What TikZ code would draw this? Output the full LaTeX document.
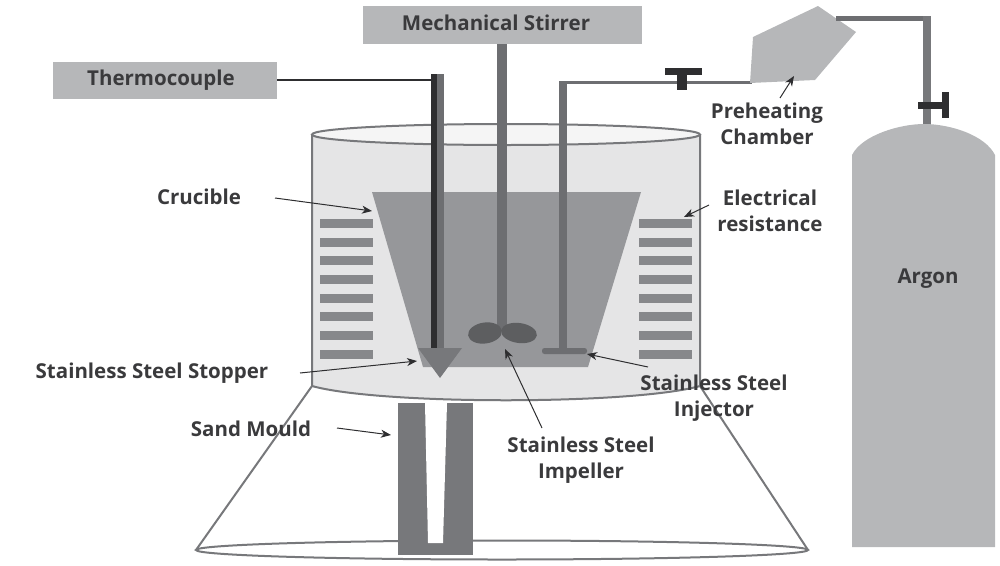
\documentclass[tikz,border=0pt]{standalone}
\usepackage{fontspec}
\setmainfont{Open Sans}[FontFace={sb}{n}{Font=* Semibold}]
\usetikzlibrary{arrows.meta}
\definecolor{boxgrey}{HTML}{B6B7B9}
\definecolor{bodygrey}{HTML}{E5E5E6}
\definecolor{melt}{HTML}{96979A}
\definecolor{metal}{HTML}{6D6E71}
\definecolor{mould}{HTML}{77787B}
\definecolor{dark}{HTML}{2E2E30}
\definecolor{outline}{HTML}{77787B}
\definecolor{txt}{HTML}{3A3A3C}
\tikzset{
  lbl/.style={font=\fontsize{20.5}{26}\selectfont\bfseries, text=txt, inner sep=0pt, align=center},
  ptr/.style={draw=dark, line width=1pt, -{Stealth[length=10pt,width=8pt,inset=3pt]}},
  bar/.style={fill=metal!85!white, draw=none},
  labbox/.style={fill=boxgrey, draw=none, inner sep=0pt, anchor=center},
}
\begin{document}
\begin{tikzpicture}[x=1pt,y=-1pt]
\useasboundingbox (0,0) rectangle (1000,565);
% funnel
\draw[outline, line width=2pt, line join=round] (312,386) -- (196,550) (700,386) -- (808,550);
\draw[outline, line width=2pt] (502,550) ellipse [x radius=306, y radius=9.5];
% mould
\fill[mould] (398,403) rectangle (473,555);
\fill[white] (425,403) -- (447,403) -- (443,543) -- (428,543) -- cycle;
% body of crucible furnace
\path[fill=bodygrey, draw=outline, line width=2pt] (312,134) -- (312,386) .. controls (380,405) and (632,405) .. (700,386) -- (700,134);
\path[fill=white!60!bodygrey, draw=outline, line width=2pt] (506,134.5) ellipse [x radius=194, y radius=10.5];
% melt
\fill[melt] (372,192) -- (641,192) -- (588,367) -- (423,367) -- cycle;
% heating bars
\foreach \yy in {219,238,256,275,294,312,331,350} {
  \fill[melt!90!black] (320,\yy) rectangle (373,\yy+9);
  \fill[melt!90!black] (639,\yy) rectangle (692,\yy+9);
}
% thermocouple
\fill[dark] (431,74) rectangle (437,348);
\fill[metal] (437,74) rectangle (444,348);
\fill[mould] (418,348) -- (462,348) -- (440,378) -- cycle;
% stirrer
\fill[metal] (497,44) rectangle (507,330);
\fill[metal!85!black, rotate around={8:(485,333)}] (485,333) ellipse [x radius=17, y radius=10.5];
\fill[metal!85!black, rotate around={-8:(519,333)}] (519,333) ellipse [x radius=18, y radius=10];
% injector
\fill[metal] (559,82) rectangle (567,350);
\fill[metal, rounded corners=2.5pt] (542,348) rectangle (587,354);
% gas line
\fill[metal] (559,80.5) rectangle (752,84);
\fill[dark] (665,68) rectangle (702,75);
\fill[dark] (677,75) rectangle (687,90);
% preheating chamber
\node[inner sep=0pt] (chamber) at (803,45) {};
\fill[boxgrey] (750,83) -- (753,37) -- (818,6) -- (856,32) -- (815,80) -- cycle;
% argon bottle line
\fill[metal] (836,16) rectangle (931,21);
\fill[mould] (923,16) rectangle (931,125);
\fill[dark] (918,102) rectangle (944,109);
\fill[dark] (942,92) rectangle (949,118);
% bottle
\fill[boxgrey] (852,547) -- (852,155) .. controls (862,135) and (900,124) .. (924,124) .. controls (950,124) and (985,135) .. (995,155) -- (995,547) -- cycle;
% label boxes
\node[labbox, minimum width=279pt, minimum height=38pt] (stirbox) at (502.5,25) {};
\node[labbox, minimum width=224pt, minimum height=37pt] (thermobox) at (165,80.5) {};
\node[lbl] (lstir) at (496,23) {Mechanical Stirrer};
\node[lbl] (lthermo) at (161,80) {Thermocouple};
\coordinate (thermoend) at (437,80);
\draw[dark, line width=1.6pt] (thermobox.east |- thermoend) -- (thermoend);
\node[lbl] (lcruc) at (199,197) {Crucible};
\node[lbl] (lelec) at (770,211) {Electrical\\resistance};
\node[lbl] (lpre) at (767,123.5) {Preheating\\Chamber};
\node[lbl] (largon) at (928,279) {Argon};
\node[lbl] (lstop) at (152,373) {Stainless Steel Stopper};
\node[lbl] (linj) at (714,398) {Stainless Steel\\Injector};
\node[lbl] (lsand) at (251,429) {Sand Mould};
\node[lbl] (limp) at (581,460) {Stainless Steel\\Impeller};
% pointer ends
\coordinate (a1s) at (275,198); \coordinate (a1e) at (372,211);
\coordinate (a2s) at (709,205); \coordinate (a2e) at (684,217);
\coordinate (a3s) at (780,98);  \coordinate (a3e) at (794,76);
\coordinate (a4s) at (300,373); \coordinate (a4e) at (417,361);
\coordinate (a5s) at (648,367); \coordinate (a5e) at (587,354);
\coordinate (a6s) at (542,428); \coordinate (a6e) at (505,349);
\coordinate (a7s) at (337,428); \coordinate (a7e) at (391,435);
\draw[ptr] (a1s) -- (a1e);
\draw[ptr] (a2s) -- (a2e);
\draw[ptr] (a3s) -- (a3e);
\draw[ptr] (a4s) -- (a4e);
\draw[ptr] (a5s) -- (a5e);
\draw[ptr] (a6s) -- (a6e);
\draw[ptr] (a7s) -- (a7e);
\end{tikzpicture}
\end{document}
